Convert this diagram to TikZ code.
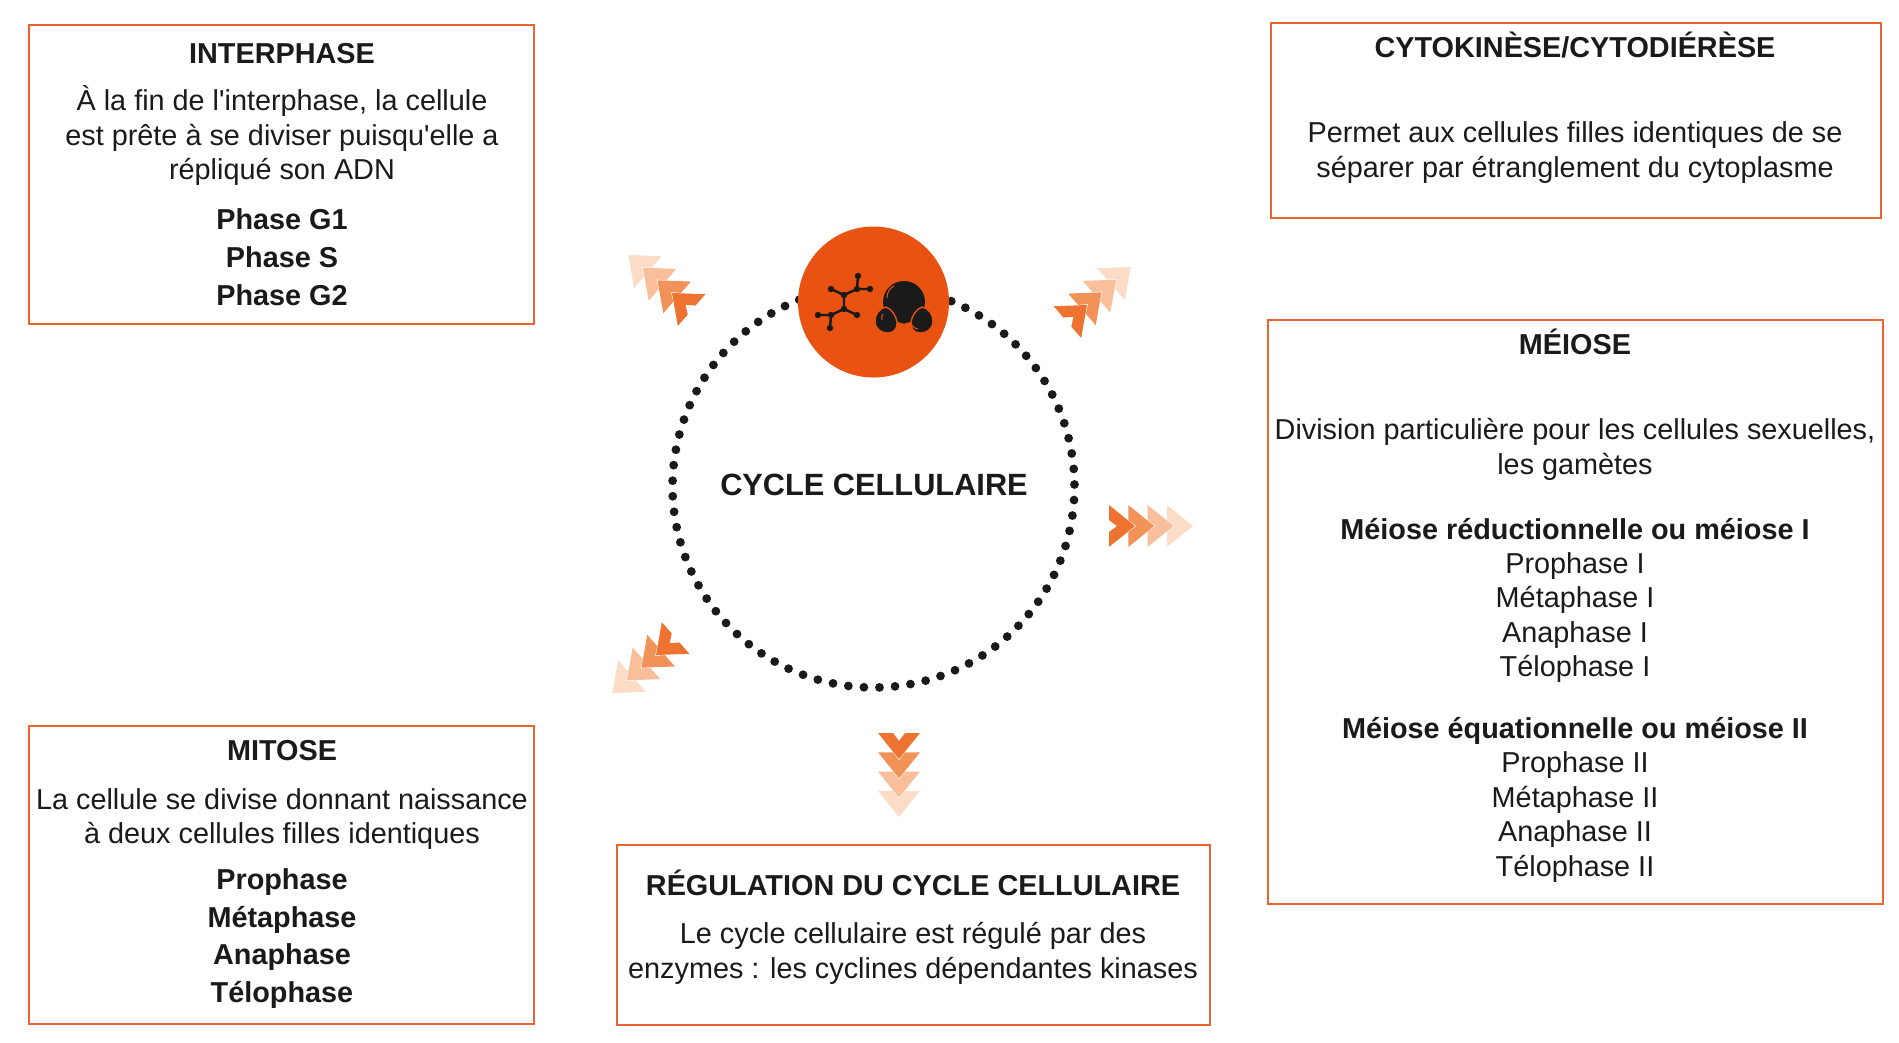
\documentclass[tikz,border=0pt]{standalone}
\usepackage{fontspec}
\setmainfont{Liberation Sans}
\definecolor{ink}{HTML}{1A1A1A}
\definecolor{frame}{HTML}{E8652F}
\definecolor{disc}{HTML}{E95210}
\definecolor{chevA}{HTML}{EE7330}
\definecolor{chevB}{HTML}{F19259}
\definecolor{chevC}{HTML}{F8BF9A}
\definecolor{chevD}{HTML}{FCDCC7}
\tikzset{
boxframe/.style={draw=frame,line width=1.2pt},
plain/.style={text=ink,align=center,font=\fontsize{16.4}{19.6}\selectfont,inner sep=0pt},
strong/.style={text=ink,align=center,font=\fontsize{16.4}{21.5}\selectfont\bfseries,inner sep=0pt},
tight/.style={strong,font=\fontsize{16.4}{19.6}\selectfont\bfseries},
bond/.style={draw=ink,line width=1.4pt},
glint/.style={draw=disc,line width=0.6pt},
}
\newcommand{\chevrons}[3]{%
\foreach \i/\c in {3/chevD,2/chevC,1/chevB,0/chevA}
\fill[\c,shift={(#1,#2)},rotate=#3,shift={(19.3*\i,0)}] (0,0)--(-26,-21)--(-26,-6)--(-18,0)--(-26,6)--(-26,21)--cycle;}
\newcommand{\lobe}{(886,307) .. controls (879,308) and (875,315) .. (875,321)
.. controls (875,329) and (881,333) .. (888,333) .. controls (894,333) and (898,328) .. (897,322)
.. controls (896,316) and (892,309) .. (886,307) -- cycle}
\begin{document}
\begin{tikzpicture}[x=0.02cm,y=-0.02cm]
\useasboundingbox (0,0) rectangle (1899,1042);
\draw[boxframe] (29,25) rectangle (534,324);
\draw[boxframe] (1271,23) rectangle (1881,218);
\draw[boxframe] (1268,320) rectangle (1883,904);
\draw[boxframe] (29,726) rectangle (534,1024);
\draw[boxframe] (617,845) rectangle (1210,1025);
\node[strong] (interTitle) at (282,54) {INTERPHASE};
\node[plain] (interText) at (282,135.5) {À la fin de l\textquotesingle interphase, la cellule\\est prête à se diviser puisqu\textquotesingle elle a\\répliqué son ADN};
\node[strong] (interPhases) at (282,257) {Phase G1\\Phase S\\Phase G2};
\node[strong] (cytoTitle) at (1575,45.5) {CYTOKINÈSE/CYTODIÉRÈSE};
\node[plain] (cytoText) at (1575,152.5) {Permet aux cellules filles identiques de se\\séparer par étranglement du cytoplasme};
\node[strong] (meioTitle) at (1575,342) {MÉIOSE};
\node[plain] (meioText) at (1575,449.5) {Division particulière pour les cellules sexuelles,\\les gamètes};
\node[tight] (meioOneTitle) at (1575,529) {Méiose réductionnelle ou méiose I};
\node[plain] (meioOne) at (1575,617.5) {Prophase I\\Métaphase I\\Anaphase I\\Télophase I};
\node[tight] (meioTwoTitle) at (1575,730.5) {Méiose équationnelle ou méiose II};
\node[plain] (meioTwo) at (1575,817) {Prophase II\\Métaphase II\\Anaphase II\\Télophase II};
\node[strong] (mitoTitle) at (282,751) {MITOSE};
\node[plain] (mitoText) at (282,819) {La cellule se divise donnant naissance\\à deux cellules filles identiques};
\node[strong] (mitoPhases) at (282,938.5) {Prophase\\Métaphase\\Anaphase\\Télophase};
\node[strong] (reguTitle) at (913,883) {RÉGULATION DU CYCLE CELLULAIRE};
\node[plain] (reguText) at (913,953.5) {Le cycle cellulaire est régulé par des\\enzymes : les cyclines dépendantes kinases};
\foreach \a in {0,...,80}
\fill[ink] (873.5,486.5)+(115+4.444*\a:201) circle (4.4);
\node[strong,font=\fontsize{17.5}{21.5}\selectfont\bfseries] (cycleLabel) at (874,485) {CYCLE CELLULAIRE};
\fill[disc] (873.5,302) circle (75.5);
\draw[bond] (858,276)--(857,289)--(870,289) (857,289)--(844,295)--(831,289) (844,295)--(844,309)--(857,315)
(844,309)--(831,315)--(818,315) (831,315)--(830,328);
\foreach \x/\y in {858/276,857/289,870/289,831/289,844/295,844/309,857/315,831/315,818/315,830/328}
\fill[ink] (\x,\y) circle (3.2);
\fill[ink] (904,302) circle (21);
\fill[ink] (896,318)--(912,318)--(904,324)--cycle;
\path[fill=ink,draw=disc,line width=0.8pt] \lobe;
\begin{scope}[shift={(1808,0)},xscale=-1]
\path[fill=ink,draw=disc,line width=0.8pt] \lobe;
\end{scope}
\draw[glint] (887,298) .. controls (887,292) and (890,288) .. (894,286);
\draw[glint] (882,320) .. controls (881,318) and (882,316) .. (883,314);
\draw[glint] (912,325) .. controls (913,327) and (915,329) .. (918,329);
\chevrons{672}{293}{139}
\chevrons{1087}{305}{41}
\chevrons{1135}{526}{0}
\chevrons{899}{759}{270}
\chevrons{656}{655}{221}
\end{tikzpicture}
\end{document}
